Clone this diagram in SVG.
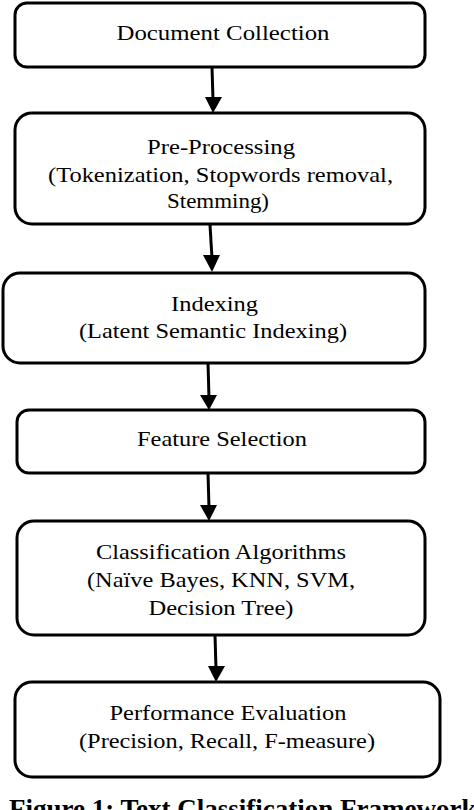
<svg xmlns="http://www.w3.org/2000/svg" width="474" height="810" viewBox="0 0 474 810">
<style>
.box{fill:#fff;stroke:#000;stroke-width:3}
.t{font-size:22px;fill:#000;text-anchor:middle}
.cap{font-size:27px;font-weight:bold;fill:#000}
.ln{stroke:#000;stroke-width:3;fill:none}
.hd{fill:#000}
</style>
<rect width="474" height="810" fill="#fff"/>
<g id="connectors">
<path class="ln" d="M212 67 L213 100"/><polygon class="hd" points="205,97 222,97 213,113"/>
<path class="ln" d="M210 225 L212 258"/><polygon class="hd" points="203,255 220,255 212,272"/>
<path class="ln" d="M208 363 L209 398"/><polygon class="hd" points="200,395 217,395 209,410"/>
<path class="ln" d="M208 473 L209 508"/><polygon class="hd" points="200,505 217,505 209,521"/>
<path class="ln" d="M215 635 L216 669"/><polygon class="hd" points="208,666 225,666 216,682"/>
</g>
<g font-family="'Liberation Serif', 'Times New Roman', serif">
<g id="n1">
<rect class="box" x="15" y="3" width="410" height="64" rx="12"/>
<text class="t" x="223" y="40" textLength="213" lengthAdjust="spacingAndGlyphs">Document Collection</text>
</g>
<g id="n2">
<rect class="box" x="15" y="113" width="410" height="111" rx="17"/>
<text class="t" x="221" y="154" textLength="148" lengthAdjust="spacingAndGlyphs">Pre-Processing</text>
<text class="t" x="220.5" y="182" textLength="345" lengthAdjust="spacingAndGlyphs">(Tokenization, Stopwords removal,</text>
<text class="t" x="218" y="208" textLength="102" lengthAdjust="spacingAndGlyphs">Stemming)</text>
</g>
<g id="n3">
<rect class="box" x="3" y="273" width="422" height="90" rx="17"/>
<text class="t" x="214.5" y="311" textLength="87" lengthAdjust="spacingAndGlyphs">Indexing</text>
<text class="t" x="213" y="338" textLength="268" lengthAdjust="spacingAndGlyphs">(Latent Semantic Indexing)</text>
</g>
<g id="n4">
<rect class="box" x="17" y="410" width="408" height="63" rx="12"/>
<text class="t" x="222" y="446" textLength="170" lengthAdjust="spacingAndGlyphs">Feature Selection</text>
</g>
<g id="n5">
<rect class="box" x="17" y="521" width="408" height="114" rx="17"/>
<text class="t" x="221" y="559" textLength="250" lengthAdjust="spacingAndGlyphs">Classification Algorithms</text>
<text class="t" x="221" y="587" textLength="268" lengthAdjust="spacingAndGlyphs">(Naïve Bayes, KNN, SVM,</text>
<text class="t" x="221" y="615" textLength="145" lengthAdjust="spacingAndGlyphs">Decision Tree)</text>
</g>
<g id="n6">
<rect class="box" x="15" y="682" width="425" height="95" rx="17"/>
<text class="t" x="228" y="720" textLength="237" lengthAdjust="spacingAndGlyphs">Performance Evaluation</text>
<text class="t" x="227" y="748" textLength="296" lengthAdjust="spacingAndGlyphs">(Precision, Recall, F-measure)</text>
</g>
<text class="cap" x="9" y="818">Figure 1: Text Classification Framework</text>
</g>
</svg>
